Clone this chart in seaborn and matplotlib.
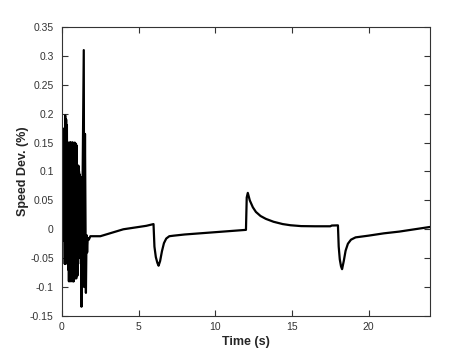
import numpy as np
import pandas as pd
import matplotlib
matplotlib.use("Agg")
import matplotlib.pyplot as plt
import seaborn as sns

# Oscillatory start-up segment (time in s, speed deviation in %)
t_osc = [0.00, 0.02, 0.04, 0.06, 0.08, 0.10, 0.12, 0.14, 0.16, 0.18, 0.21, 0.24,
         0.27, 0.30, 0.32, 0.35, 0.38, 0.41,
         0.43, 0.45, 0.47, 0.49, 0.51, 0.53, 0.55, 0.57, 0.59, 0.61, 0.63, 0.65,
         0.67, 0.69, 0.71, 0.73, 0.75, 0.77, 0.79, 0.81, 0.83, 0.85, 0.87, 0.89,
         0.91, 0.93, 0.95, 0.97, 0.99, 1.01, 1.03, 1.05, 1.07, 1.09, 1.11, 1.13,
         1.15, 1.17, 1.19, 1.21, 1.23, 1.27, 1.42,
         1.45, 1.50, 1.56, 1.60, 1.64, 1.68]
y_osc = [0.03, 0.10, 0.175, -0.01, 0.06, 0.00, 0.05, -0.02, 0.04, -0.06, 0.197, -0.06,
         0.19, -0.05, 0.18, -0.04, 0.145, -0.07,
         0.15, -0.09, 0.14, -0.08, 0.15, -0.09, 0.15, -0.07, 0.15, -0.085, 0.14, -0.09,
         0.15, -0.08, 0.15, -0.09, 0.14, -0.09, 0.145, -0.08, 0.15, -0.085, 0.14, -0.08,
         0.148, -0.085, 0.145, -0.07, 0.11, -0.08, 0.11, -0.06, 0.11, -0.05, 0.10, -0.04,
         0.095, -0.04, 0.09, -0.04, 0.09, -0.134, 0.31,
         -0.10, 0.165, -0.11, -0.01, -0.04, -0.015]

# Smooth segment after the start-up
t_rest = [1.75, 1.85, 2.0, 2.5, 3.0, 3.5, 4.0, 4.5, 5.0, 5.5, 5.97,
          6.03, 6.12, 6.22, 6.30, 6.40, 6.52, 6.65, 6.80, 7.0, 7.3, 8.0, 9.0, 10.0, 11.0, 12.0,
          12.05, 12.12, 12.25, 12.45, 12.65, 12.95, 13.3, 13.8, 14.4, 14.9, 15.6, 16.5, 17.5,
          17.6, 18.0,
          18.05, 18.12, 18.20, 18.27, 18.38, 18.50, 18.65, 18.85, 19.15, 20.0, 21.0, 22.0, 23.0, 24.0]
y_rest = [-0.018, -0.012, -0.012, -0.012, -0.008, -0.004, 0.000, 0.002, 0.004, 0.006, 0.009,
          -0.030, -0.048, -0.058, -0.063, -0.055, -0.038, -0.024, -0.016, -0.012, -0.011, -0.009, -0.007, -0.005, -0.003, -0.001,
          0.055, 0.063, 0.050, 0.038, 0.030, 0.023, 0.018, 0.013, 0.009, 0.007, 0.0055, 0.0052, 0.0052,
          0.0065, 0.0068,
          -0.030, -0.052, -0.064, -0.069, -0.055, -0.037, -0.025, -0.018, -0.014, -0.011, -0.007, -0.004, 0.000, 0.004]

df = pd.DataFrame({"Time": np.r_[t_osc, t_rest], "Dev": np.r_[y_osc, y_rest]})

sns.set_style("ticks")
plt.rcParams["font.family"] = ["Liberation Sans", "DejaVu Sans"]

fig = plt.figure(figsize=(4.74, 3.55), dpi=100)
ax = fig.add_axes([0.1308, 0.1099, 0.7762, 0.8141])
sns.lineplot(data=df, x="Time", y="Dev", sort=False, estimator=None,
             color="black", linewidth=1.6, ax=ax)

ax.set_xlim(0, 24)
ax.set_ylim(-0.15, 0.35)
ax.set_xticks([0, 5, 10, 15, 20])
ax.set_yticks([-0.15, -0.1, -0.05, 0, 0.05, 0.1, 0.15, 0.2, 0.25, 0.3, 0.35])
ax.set_yticklabels(["-0.15", "-0.1", "-0.05", "0", "0.05", "0.1", "0.15", "0.2", "0.25", "0.3", "0.35"])
ax.tick_params(direction="in", length=4, width=0.8, labelsize=7.5, colors="#333333",
               top=True, right=True)
ax.tick_params(axis="y", pad=6)
ax.tick_params(axis="x", pad=4)
for s in ax.spines.values():
    s.set_visible(True)
    s.set_linewidth(0.8)
    s.set_color("#333333")
ax.set_xlabel("Time (s)", fontsize=9, fontweight="bold", labelpad=3)
ax.set_ylabel("Speed Dev. (%)", fontsize=9, fontweight="bold", labelpad=1)

fig.savefig("out.png", dpi=100)
